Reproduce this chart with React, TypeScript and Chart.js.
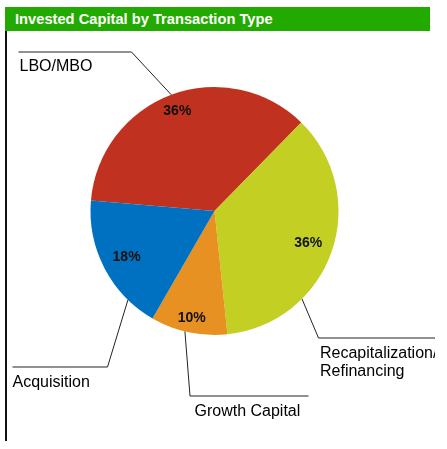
import { useEffect, useRef } from "react";
import { Chart, registerables } from "chart.js";

Chart.register(...registerables);

const categories = ["LBO/MBO", "Recapitalization/\nRefinancing", "Growth Capital", "Acquisition"];
const shares = [36, 36, 10, 18];
const sliceColors = ["#C0321F", "#C4CF24", "#E69122", "#0071C1"];

// callout placement, relative to pie centre (px); anchor = fraction along slice arc
const callouts = [
  { at: 0.5, elbow: [-83, -159], endX: -196, textX: -195, textDy: 15 },
  { at: 0.7, elbow: [104, 127], endX: 221, textX: 105.5, textDy: 15.7 },
  { at: 0.55, elbow: [-24.5, 185], endX: 94, textX: -20, textDy: 15.7 },
  { at: 0.22, elbow: [-107, 156], endX: -202, textX: -202, textDy: 16 },
];
const pctRadius = [0.86, 0.8, 0.88, 0.8];

const FONT = "'Liberation Sans', Arial, sans-serif";

export default function App() {
  const ref = useRef<HTMLCanvasElement | null>(null);
  const chartRef = useRef<Chart | null>(null);

  useEffect(() => {
    if (!ref.current) return;
    chartRef.current?.destroy();
    const ctx = ref.current.getContext("2d");
    if (!ctx) return;

    const labelPlugin = {
      id: "pieLabels",
      afterDraw(chart: any) {
        const { ctx } = chart;
        const meta = chart.getDatasetMeta(0);
        const total = shares.reduce((a, b) => a + b, 0);
        ctx.save();
        meta.data.forEach((arc: any, i: number) => {
          const { x, y, startAngle, endAngle, outerRadius } = arc.getProps(
            ["x", "y", "startAngle", "endAngle", "outerRadius"],
            true
          );
          // percentage inside slice
          const mid = (startAngle + endAngle) / 2;
          const pr = outerRadius * pctRadius[i];
          ctx.fillStyle = "#111";
          ctx.font = `bold 14px ${FONT}`;
          ctx.textAlign = "center";
          ctx.textBaseline = "middle";
          ctx.fillText(
            Math.round((shares[i] / total) * 100) + "%",
            x + Math.cos(mid) * pr,
            y + Math.sin(mid) * pr
          );

          // leader line + category label
          const c = callouts[i];
          const a = startAngle + (endAngle - startAngle) * c.at;
          const ax = x + Math.cos(a) * outerRadius;
          const ay = y + Math.sin(a) * outerRadius;
          ctx.strokeStyle = "#222";
          ctx.lineWidth = 1;
          ctx.beginPath();
          ctx.moveTo(ax, ay);
          ctx.lineTo(x + c.elbow[0], y + c.elbow[1]);
          ctx.lineTo(x + c.endX, y + c.elbow[1]);
          ctx.stroke();

          ctx.fillStyle = "#000";
          ctx.font = `16px ${FONT}`;
          ctx.textAlign = "left";
          categories[i].split("\n").forEach((line, k) => {
            ctx.fillText(line, x + c.textX, y + c.elbow[1] + c.textDy + k * 17.7);
          });
        });
        ctx.restore();
      },
    };

    chartRef.current = new Chart(ctx, {
      type: "pie",
      data: {
        labels: categories,
        datasets: [
          {
            data: shares,
            backgroundColor: sliceColors,
            borderWidth: 0,
          },
        ],
      },
      options: {
        responsive: false,
        animation: false,
        rotation: -85.2,
        layout: { padding: { left: 90.5, right: 96.5, top: 87, bottom: 114 } },
        plugins: {
          legend: { display: false },
          tooltip: { enabled: false },
        },
      },
      plugins: [labelPlugin],
    });

    return () => chartRef.current?.destroy();
  }, []);

  return (
    <div style={{ position: "fixed", left: 0, top: 0, width: 447, height: 449, background: "#fff" }}>
      <canvas ref={ref} width={435} height={449} style={{ position: "absolute", left: 0, top: 0 }} />
      <div
        style={{
          position: "absolute",
          left: 5,
          top: 7,
          width: 425,
          height: 24,
          background: "#23AA00",
          color: "#fff",
          font: `bold 14.7px ${FONT}`,
          lineHeight: "24px",
          paddingLeft: 10,
          boxSizing: "border-box",
        }}
      >
        Invested Capital by Transaction Type
      </div>
      <div style={{ position: "absolute", left: 5, top: 31, width: 1.5, height: 410, background: "#111" }} />
    </div>
  );
}
